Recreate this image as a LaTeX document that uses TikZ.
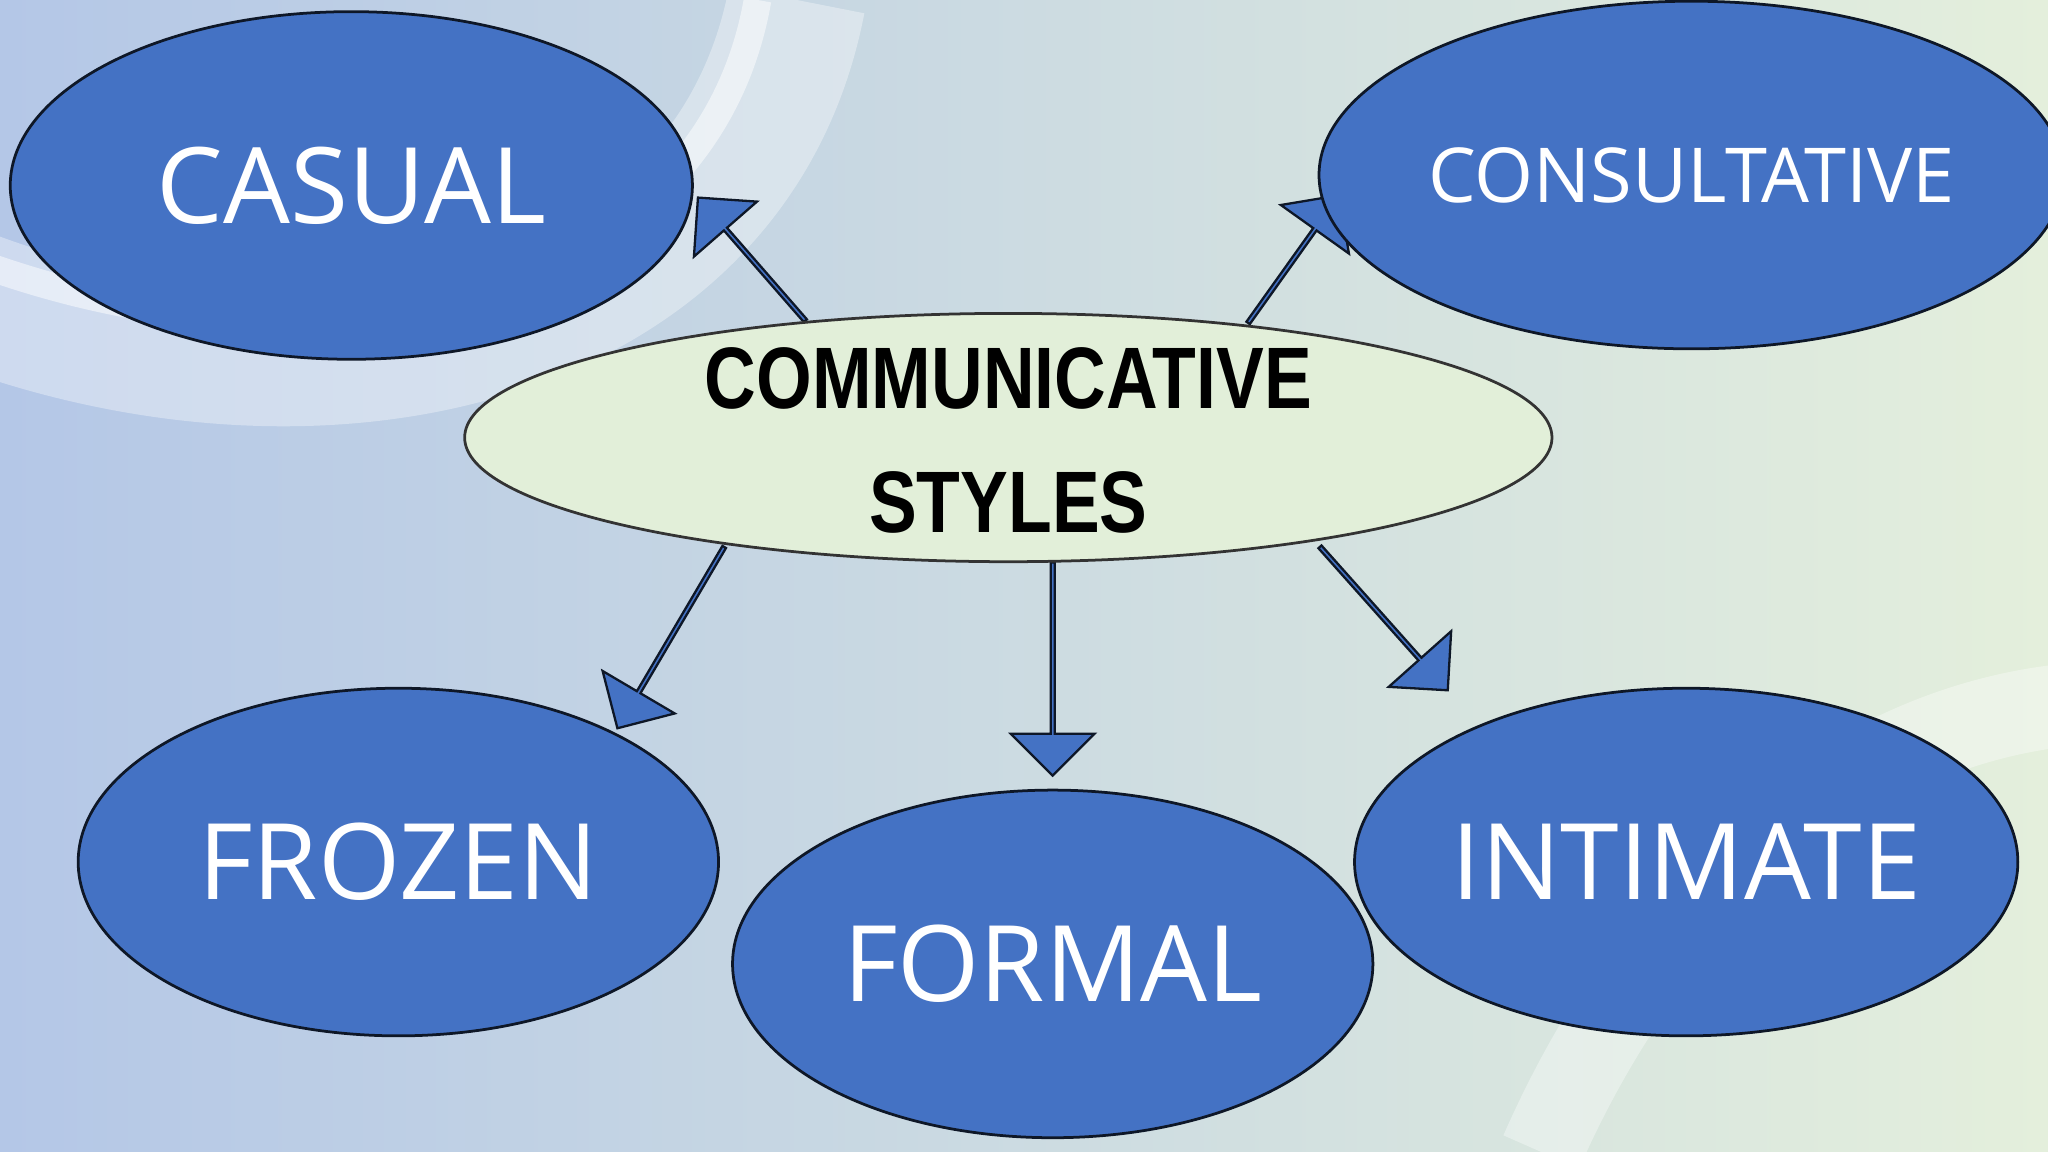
\documentclass[tikz,border=0pt]{standalone}
\usepackage{fontspec}
\setmainfont{Open Sans}
\newfontfamily\boldf{Liberation Sans}
\usetikzlibrary{shapes.geometric,shapes.arrows}
\definecolor{ellblue}{HTML}{4472C4}
\definecolor{ctrgreen}{HTML}{E2EFD9}
\definecolor{bgL}{HTML}{B4C7E7}
\definecolor{bgR}{HTML}{E4EFDC}
\tikzset{
 bub/.style={ellipse,draw=black!80!ellblue,line width=0.6pt,fill=ellblue,text=white,inner sep=0pt},
 blk/.style={single arrow,draw=black!80!ellblue,line width=0.5pt,fill=ellblue,minimum width=0.64cm,single arrow head extend=0.17cm,single arrow tip angle=90,inner sep=0pt,anchor=center}
}
\begin{document}
\begin{tikzpicture}[x=0.01cm,y=-0.01cm]
\shade[left color=bgL,right color=bgR] (0,0) rectangle (1568,882);
\useasboundingbox (0,0) rectangle (1568,882);
% swooshes
\begin{scope}
\clip (0,0) rectangle (1568,882);
\draw[white,opacity=0.35,line width=30pt] (-20,230) .. controls (250,330) and (560,260) .. (610,0);
\draw[white,opacity=0.5,line width=6pt] (-20,200) .. controls (250,300) and (540,230) .. (580,0);
\draw[white,opacity=0.35,line width=18pt] (1180,882) .. controls (1260,700) and (1400,560) .. (1580,540);
\end{scope}
\node[blk,minimum height=1.25cm,rotate=131.1] (a1) at (576,199) {};
\node[blk,minimum height=1.20cm,rotate=54.5] (a2) at (990,199) {};
\node[blk,minimum height=1.61cm,rotate=239.5] (a3) at (514,487.5) {};
\node[blk,minimum height=1.63cm,rotate=270] (a4) at (806,511.5) {};
\node[blk,minimum height=1.47cm,rotate=-48.3] (a5) at (1059,473) {};
\node[ellipse,draw=black!80,line width=0.6pt,fill=ctrgreen,minimum width=8.32cm,minimum height=1.90cm,inner sep=0pt,align=center] (c) at (772,335) {};
\node[align=center,font=\boldf\bfseries\fontsize{19}{27}\selectfont,xscale=0.82] (ct) at (772,337) {COMMUNICATIVE\\STYLES};
\node[bub,minimum width=5.22cm,minimum height=2.66cm,font=\fontsize{23}{27}\selectfont] (cas) at (269,142) {CASUAL};
\node[bub,minimum width=5.40cm,minimum height=2.66cm,font=\fontsize{16.5}{20}\selectfont] (con) at (1295,134) {CONSULTATIVE};
\node[bub,minimum width=4.90cm,minimum height=2.66cm,font=\fontsize{23}{27}\selectfont] (fro) at (305,660) {FROZEN};
\node[bub,minimum width=4.90cm,minimum height=2.66cm,font=\fontsize{23}{27}\selectfont] (for) at (806,738) {FORMAL};
\node[bub,minimum width=4.90cm,minimum height=2.66cm,font=\fontsize{23}{27}\selectfont] (int) at (1291,660) {INTIMATE};
\end{tikzpicture}
\end{document}
